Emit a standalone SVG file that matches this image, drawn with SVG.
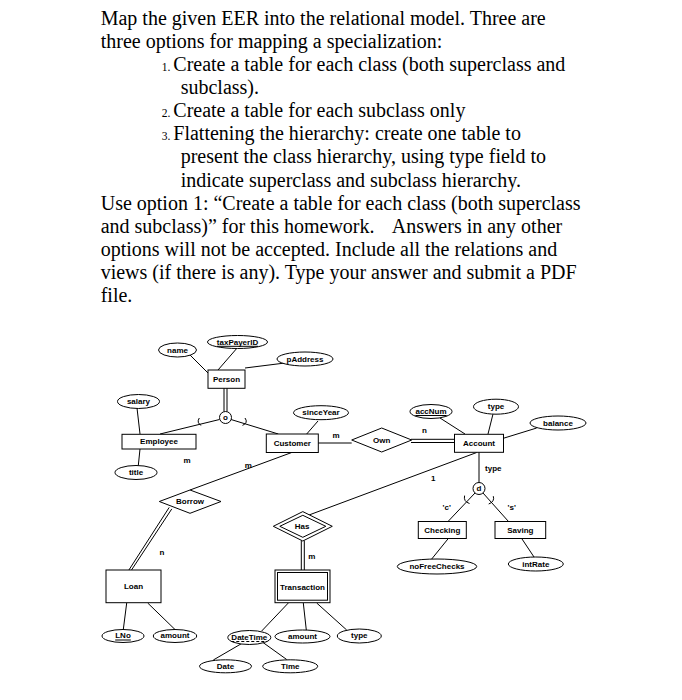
<svg xmlns="http://www.w3.org/2000/svg" width="682" height="700" viewBox="0 0 682 700">
<style>
.t{font-family:"Liberation Serif","Times New Roman",serif;font-size:20px;fill:#000}
.num{font-size:11.5px}
.l{font-family:"Liberation Sans",Arial,sans-serif;font-size:8px;font-weight:bold;text-anchor:middle;dominant-baseline:central;fill:#000}
.s{fill:#fff;stroke:#000;stroke-width:1}
.n{fill:none;stroke:#000;stroke-width:1}
#connectors line,#connectors path{stroke:#000;stroke-width:1;fill:none}
</style>
<rect width="682" height="700" fill="#fff"/>
<g id="question">
<text class="t" x="100.7" y="24.5">Map the given EER into the relational model. Three are</text>
<text class="t" x="100.7" y="47.7">three options for mapping a specialization:</text>
<text class="t num" x="161.7" y="70.8">1.</text>
<text class="t" x="173.3" y="70.8">Create a table for each class (both superclass and</text>
<text class="t" x="180.7" y="94">subclass).</text>
<text class="t num" x="161.7" y="117.1">2.</text>
<text class="t" x="173.3" y="117.1">Create a table for each subclass only</text>
<text class="t num" x="161.7" y="140.3">3.</text>
<text class="t" x="173.3" y="140.3">Flattening the hierarchy: create one table to</text>
<text class="t" x="180.7" y="163.4">present the class hierarchy, using type field to</text>
<text class="t" x="180.7" y="186.5">indicate superclass and subclass hierarchy.</text>
<text class="t" x="100.7" y="209.7">Use option 1: “Create a table for each class (both superclass</text>
<text class="t" x="100.7" y="232.8">and subclass)” for this homework.</text>
<text class="t" x="391.7" y="232.8">Answers in any other</text>
<text class="t" x="100.7" y="256">options will not be accepted. Include all the relations and</text>
<text class="t" x="100.7" y="279.1">views (if there is any). Type your answer and submit a PDF</text>
<text class="t" x="100.7" y="302.3">file.</text>
</g>
<g id="connectors">
<line x1="190" y1="355" x2="208" y2="373"/>
<line x1="236.7" y1="348.5" x2="218" y2="370"/>
<line x1="285" y1="363" x2="245" y2="368"/>
<line x1="224" y1="388" x2="224" y2="411.5"/>
<line x1="227" y1="388" x2="227" y2="411.5"/>
<line x1="219.5" y1="419.5" x2="160" y2="434"/>
<path d="M201.2,425.4 Q196.3,422.8 199.3,418.0"/>
<line x1="231" y1="419.5" x2="278.3" y2="434"/>
<path d="M242.5,425.4 Q248.5,422.8 245.0,418.0"/>
<line x1="137" y1="408" x2="140" y2="434"/>
<line x1="140" y1="449" x2="138.3" y2="465.5"/>
<line x1="318" y1="421" x2="306.7" y2="434"/>
<line x1="318" y1="443" x2="351.7" y2="443"/>
<line x1="411" y1="439.3" x2="455" y2="439.3"/>
<line x1="411" y1="442.5" x2="455" y2="442.5"/>
<line x1="440" y1="418" x2="465" y2="434"/>
<line x1="493" y1="414" x2="488" y2="434"/>
<line x1="536.7" y1="428" x2="503.3" y2="438.3"/>
<line x1="479" y1="452" x2="479" y2="482.5"/>
<line x1="475" y1="493" x2="448" y2="521.5"/>
<path d="M469.5,503.5 Q463.2,501.5 464.6,495.6"/>
<line x1="483" y1="493" x2="508.5" y2="521.5"/>
<path d="M488.7,504.0 Q494.9,501.6 493.3,496.2"/>
<line x1="448.3" y1="538.5" x2="431.7" y2="559"/>
<line x1="521.7" y1="538.5" x2="534" y2="557"/>
<line x1="476.7" y1="452.5" x2="309" y2="515"/>
<line x1="291.7" y1="452.5" x2="190" y2="490"/>
<line x1="169.2" y1="507.4" x2="128.9" y2="570"/>
<line x1="171.8" y1="508.9" x2="131.5" y2="570"/>
<line x1="301.3" y1="540.5" x2="301.3" y2="570"/>
<line x1="304.3" y1="540.5" x2="304.3" y2="570"/>
<line x1="126.7" y1="603" x2="123.3" y2="629.5"/>
<line x1="147.7" y1="603" x2="175" y2="629.5"/>
<line x1="288.3" y1="603" x2="261.7" y2="631"/>
<line x1="303.3" y1="603" x2="306.3" y2="630"/>
<line x1="316.7" y1="603" x2="346.7" y2="630"/>
<line x1="241.7" y1="643.5" x2="213.3" y2="660"/>
<line x1="263" y1="642.5" x2="286.7" y2="659.5"/>
<text class="l" x="187" y="460">m</text>
<text class="l" x="336" y="435.5">m</text>
<text class="l" x="424.5" y="430.5">n</text>
<text class="l" x="493.3" y="468.5">type</text>
<text class="l" x="446.7" y="507">'c'</text>
<text class="l" x="511.7" y="507">'s'</text>
<text class="l" x="433.3" y="478.3">1</text>
<text class="l" x="248.3" y="465">m</text>
<text class="l" x="162" y="552">n</text>
<text class="l" x="311.7" y="556.7">m</text>
</g>
<g id="Person">
<rect class="s" x="208" y="370" width="37" height="18.3"/>
<text class="l" x="226.5" y="379.3">Person</text>
</g>
<g id="name"><ellipse class="s" cx="177.5" cy="350" rx="19" ry="7"/><text class="l" x="177.5" y="350">name</text></g>
<g id="taxPayerID"><ellipse class="s" cx="237.5" cy="342" rx="30" ry="6.5"/><text class="l" x="237.5" y="342">taxPayerID</text><line class="n" x1="216.8" y1="346.3" x2="258.2" y2="346.3"/></g>
<g id="pAddress"><ellipse class="s" cx="305" cy="359" rx="28" ry="7"/><text class="l" x="305" y="359">pAddress</text></g>
<g id="specialization-o"><circle class="s" cx="225.5" cy="417.5" r="6"/><text class="l" x="225.5" y="417.3">o</text></g>
<g id="Employee"><rect class="s" x="122" y="434.3" width="74" height="14.7"/><text class="l" x="159" y="441.8">Employee</text></g>
<g id="salary"><ellipse class="s" cx="138.5" cy="401.5" rx="21" ry="7"/><text class="l" x="138.5" y="401.5">salary</text></g>
<g id="title"><ellipse class="s" cx="136" cy="472.5" rx="21" ry="7"/><text class="l" x="136" y="472.5">title</text></g>
<g id="Customer"><rect class="s" x="266.3" y="434" width="52" height="18.5"/><text class="l" x="292.3" y="443.3">Customer</text></g>
<g id="sinceYear"><ellipse class="s" cx="321" cy="412.7" rx="27.5" ry="7"/><text class="l" x="321" y="412.5">sinceYear</text></g>
<g id="Own"><polygon class="s" points="351.7,440 381.7,428 411.7,440 381.7,452"/><text class="l" x="381.7" y="440">Own</text></g>
<g id="Account"><rect class="s" x="454.5" y="434.3" width="49" height="18"/><text class="l" x="479" y="443.3">Account</text></g>
<g id="accNum"><ellipse class="s" cx="431" cy="411.5" rx="21" ry="7"/><text class="l" x="431" y="411.3">accNum</text><line class="n" x1="415.4" y1="415.5" x2="446.6" y2="415.5"/></g>
<g id="type-account"><ellipse class="s" cx="496" cy="406.7" rx="22.5" ry="7.5"/><text class="l" x="496" y="406.5">type</text></g>
<g id="balance"><ellipse class="s" cx="558" cy="423" rx="28" ry="7"/><text class="l" x="558" y="423">balance</text></g>
<g id="specialization-d"><circle class="s" cx="479" cy="488.5" r="6"/><text class="l" x="479" y="488.3">d</text></g>
<g id="Checking"><rect class="s" x="418.3" y="521.5" width="48" height="17"/><text class="l" x="442.3" y="530">Checking</text></g>
<g id="Saving"><rect class="s" x="495" y="521.5" width="50.7" height="17"/><text class="l" x="520.3" y="530">Saving</text></g>
<g id="noFreeChecks"><ellipse class="s" cx="437" cy="566.5" rx="39.7" ry="7.5"/><text class="l" x="437" y="566.5">noFreeChecks</text></g>
<g id="intRate"><ellipse class="s" cx="535.8" cy="564" rx="27.5" ry="7"/><text class="l" x="535.8" y="564">intRate</text></g>
<g id="Has"><polygon class="s" points="273.3,526.3 302.8,511.6 332.3,526.3 302.8,541"/><polygon class="n" points="279.8,526.3 302.8,515.3 325.8,526.3 302.8,537.3"/><text class="l" x="302" y="526.3">Has</text></g>
<g id="Transaction"><rect class="s" x="275" y="570" width="55" height="32.7"/><rect class="n" x="277.5" y="572.5" width="50" height="27.7"/><text class="l" x="302.5" y="587">Transaction</text></g>
<g id="Borrow"><polygon class="s" points="159.3,501.5 190,490 221,501.5 190,513.3"/><text class="l" x="190" y="501.5">Borrow</text></g>
<g id="Loan"><rect class="s" x="106" y="570" width="55" height="32.7"/><text class="l" x="133.5" y="586.3">Loan</text></g>
<g id="LNo"><ellipse class="s" cx="123" cy="636" rx="21" ry="6.5"/><text class="l" x="123" y="635.8">LNo</text><line class="n" x1="115.2" y1="640" x2="130.8" y2="640"/></g>
<g id="amount-loan"><ellipse class="s" cx="175" cy="636" rx="21.7" ry="6.5"/><text class="l" x="175" y="635.8">amount</text></g>
<g id="DateTime"><ellipse class="s" cx="249.3" cy="637.5" rx="21.5" ry="7"/><text class="l" x="249.3" y="637.3">DateTime</text><line class="n" x1="231.3" y1="641.5" x2="267.3" y2="641.5" stroke-dasharray="3,2"/></g>
<g id="amount-transaction"><ellipse class="s" cx="302.5" cy="636.5" rx="27.5" ry="6.5"/><text class="l" x="302.5" y="636.3">amount</text></g>
<g id="type-transaction"><ellipse class="s" cx="359.3" cy="636" rx="22" ry="7"/><text class="l" x="359.3" y="635.8">type</text></g>
<g id="Date"><ellipse class="s" cx="225.5" cy="666.3" rx="26" ry="6.5"/><text class="l" x="225.5" y="666.1">Date</text></g>
<g id="Time"><ellipse class="s" cx="290.2" cy="666.3" rx="27.5" ry="6.5"/><text class="l" x="290.2" y="666.1">Time</text></g>
</svg>
